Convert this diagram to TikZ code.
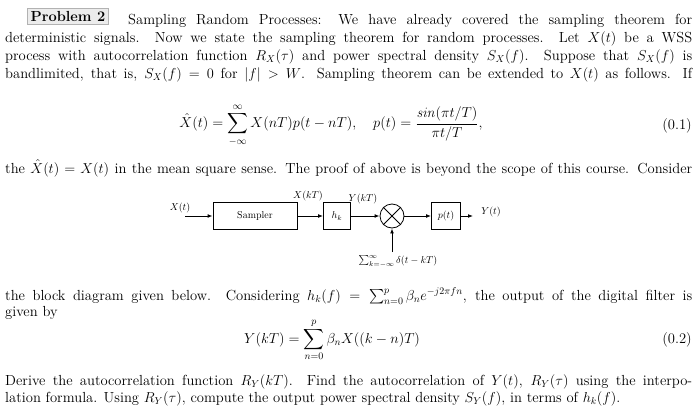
\documentclass[tikz,border=0pt]{standalone}
\usepackage{amsmath}
\usetikzlibrary{arrows.meta}
\begin{document}
\begin{tikzpicture}[x=1pt,y=-1pt,
  ln/.style={anchor=west,inner sep=0pt,font=\fontsize{14.6}{17}\selectfont},
  blk/.style={draw,thick,minimum height=27pt,inner sep=0pt,font=\fontsize{10}{12}\selectfont},
  lab/.style={inner sep=0pt,font=\fontsize{10}{12}\selectfont},
  arr/.style={thick,-{Latex[length=5pt]}}]
\useasboundingbox (0,0) rectangle (698,407);
\node[draw=gray!60,fill=gray!15,inner sep=3pt,font=\fontsize{14.6}{17}\selectfont\bfseries] (pb) at (68,16) {Problem 2};
\node[ln] (l1) at (128,21) {\makebox[564pt][s]{Sampling Random Processes: We have already covered the sampling theorem for}};
\node[ln] (l2) at (5,39) {\makebox[687pt][s]{deterministic signals. Now we state the sampling theorem for random processes. Let $X(t)$ be a WSS}};
\node[ln] (l3) at (5,57) {\makebox[687pt][s]{process with autocorrelation function $R_X(\tau)$ and power spectral density $S_X(f)$. Suppose that $S_X(f)$ is}};
\node[ln] (l4) at (5,75) {\makebox[687pt][s]{bandlimited, that is, $S_X(f)=0$ for $|f|>W$. Sampling theorem can be extended to $X(t)$ as follows. If}};
\node[ln,anchor=center] (e1) at (331,125) {$\displaystyle \hat X(t)=\sum_{-\infty}^{\infty}X(nT)p(t-nT),\quad p(t)=\frac{\mathit{sin}(\pi t/T)}{\pi t/T},$};
\node[ln,anchor=east] (n1) at (692,126) {(0.1)};
\node[ln] (l5) at (5,168) {\makebox[687pt][s]{the $\hat X(t)=X(t)$ in the mean square sense. The proof of above is beyond the scope of this course. Consider}};
% diagram
\node[blk,minimum width=84pt] (s) at (255,216) {Sampler};
\node[blk,minimum width=27pt] (h) at (337,216) {$h_k$};
\node[draw,thick,circle,minimum size=24pt,inner sep=0pt] (m) at (392,216) {};
\draw[thick] (m.north west)--(m.south east) (m.north east)--(m.south west);
\node[blk,minimum width=29pt] (p) at (446,216) {$p(t)$};
\coordinate (in) at (185,216);
\coordinate (out) at (473,216);
\coordinate (bot) at (392,252);
\node[lab] (xt) at (180,208) {$X(t)$};
\node[lab] (yt) at (491,212) {$Y(t)$};
\node[lab] (xk) at (308,196) {$X(kT)$};
\node[lab] (yk) at (363,199) {$Y(kT)$};
\node[lab] (dl) at (398,261) {$\sum_{k=-\infty}^{\infty}\delta(t-kT)$};
\draw[arr] (in)--(s);
\draw[arr] (s)--(h);
\draw[arr] (h)--(m);
\draw[arr] (m)--(p);
\draw[arr] (p)--(out);
\draw[arr] (bot)--(m);
\node[ln] (l6) at (5,296) {\makebox[687pt][s]{the block diagram given below. Considering $h_k(f)=\sum_{n=0}^{p}\beta_n e^{-j2\pi f n}$, the output of the digital filter is}};
\node[ln] (l7) at (5,313) {given by};
\node[ln] (e2) at (244,340) {$\displaystyle Y(kT)=\sum_{n=0}^{p}\beta_n X((k-n)T)$};
\node[ln,anchor=east] (n2) at (692,340) {(0.2)};
\node[ln] (l8) at (5,382) {\makebox[687pt][s]{Derive the autocorrelation function $R_Y(kT)$. Find the autocorrelation of $Y(t)$, $R_Y(\tau)$ using the interpo-}};
\node[ln] (l9) at (5,399) {lation formula. Using $R_Y(\tau)$, compute the output power spectral density $S_Y(f)$, in terms of $h_k(f)$.};
\end{tikzpicture}
\end{document}
